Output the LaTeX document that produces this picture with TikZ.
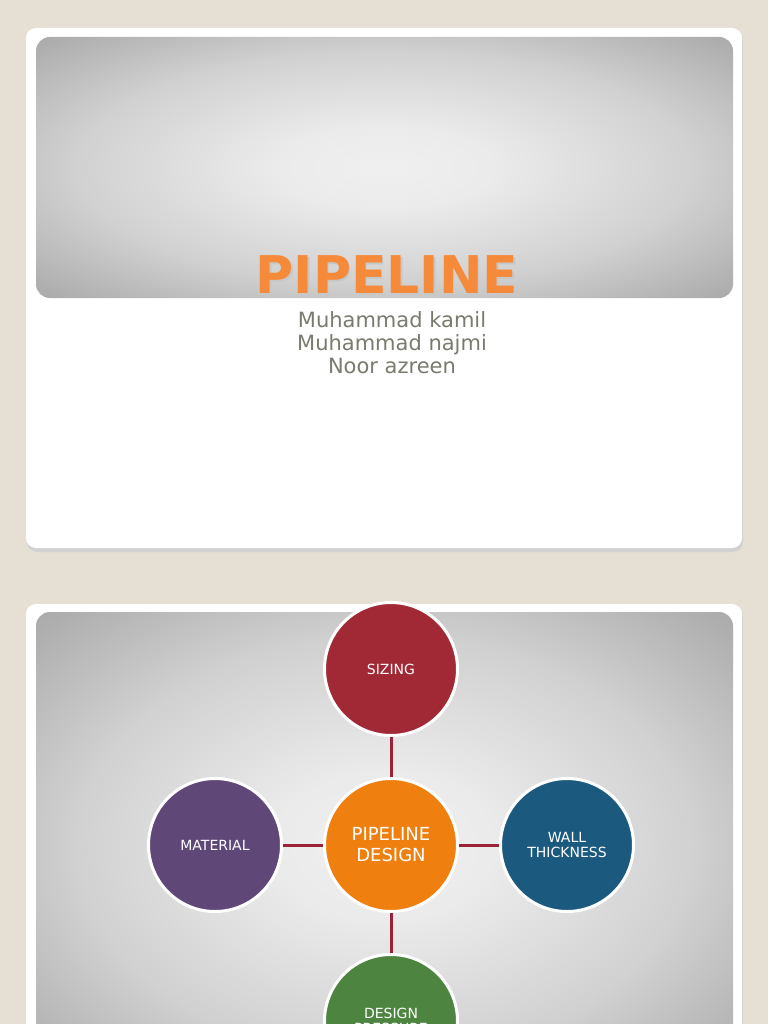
\documentclass[tikz,border=0pt]{standalone}
\usepackage{fontspec}
\setmainfont{DejaVu Sans}
\definecolor{pagebg}{HTML}{E5DFD4}
\definecolor{titleorange}{HTML}{F68A3B}
\definecolor{namegray}{HTML}{7A7A6E}
\definecolor{sizingred}{HTML}{A12835}
\definecolor{centerorange}{HTML}{EF7F0F}
\definecolor{materialpurple}{HTML}{5F4778}
\definecolor{wallblue}{HTML}{1B5A7E}
\definecolor{pressuregreen}{HTML}{4D8540}
\definecolor{linkred}{HTML}{9B2335}
\pgfdeclareradialshading{panelglow}{\pgfpoint{0bp}{0bp}}{%
  color(0bp)=(black!6); color(8bp)=(black!8); color(22bp)=(black!18);
  color(34bp)=(black!32); color(50bp)=(black!46)}
\tikzset{
  slide/.style={fill=white, rounded corners=10pt},
  slideshadow/.style={fill=black!18, rounded corners=10pt},
  panel/.style={rounded corners=14pt, shading=panelglow},
  topic/.style={circle, draw=white, line width=3pt, minimum size=133pt, inner sep=0pt,
    text=white, align=center, font=\fontsize{14}{15}\selectfont},
  link/.style={draw=linkred, line width=3pt}
}
\begin{document}
\begin{tikzpicture}[x=1pt,y=-1pt]
  \useasboundingbox (0,0) rectangle (768,1024);
  \clip (0,0) rectangle (768,1024);
  \fill[pagebg] (0,0) rectangle (768,1024);

  % first slide
  \fill[slideshadow] (27,31) rectangle (743,552);
  \fill[slide] (26,28) rectangle (742,548);
  \shade[panel] (36,37) rectangle (733,298);
  \node[text=black!22, font=\fontsize{52}{52}\selectfont\bfseries] at (388.5,276.5) {PIPELINE};
  \node (Title) [text=titleorange, font=\fontsize{52}{52}\selectfont\bfseries] at (387,275) {PIPELINE};
  \node (Names) [text=namegray, align=center, font=\fontsize{21}{23}\selectfont] at (392,343)
    {Muhammad kamil\\Muhammad najmi\\Noor azreen};

  % second slide
  \fill[slideshadow] (27,607) rectangle (743,1040);
  \fill[slide] (26,604) rectangle (742,1040);
  \shade[panel] (36,612) rectangle (733,1080);

  \node (Sizing) [topic, fill=sizingred] at (391,669) {SIZING};
  \node (Center) [topic, fill=centerorange, font=\fontsize{18}{21}\selectfont] at (391,845) {PIPELINE\\DESIGN};
  \node (Material) [topic, fill=materialpurple] at (215,845) {MATERIAL};
  \node (Wall) [topic, fill=wallblue] at (567,845) {WALL\\THICKNESS};
  \node (Pressure) [topic, fill=pressuregreen] at (391,1021) {DESIGN\\PRESSURE};

  \path[link] (Sizing) -- (Center);
  \path[link] (Material) -- (Center);
  \path[link] (Center) -- (Wall);
  \path[link] (Center) -- (Pressure);
\end{tikzpicture}
\end{document}
